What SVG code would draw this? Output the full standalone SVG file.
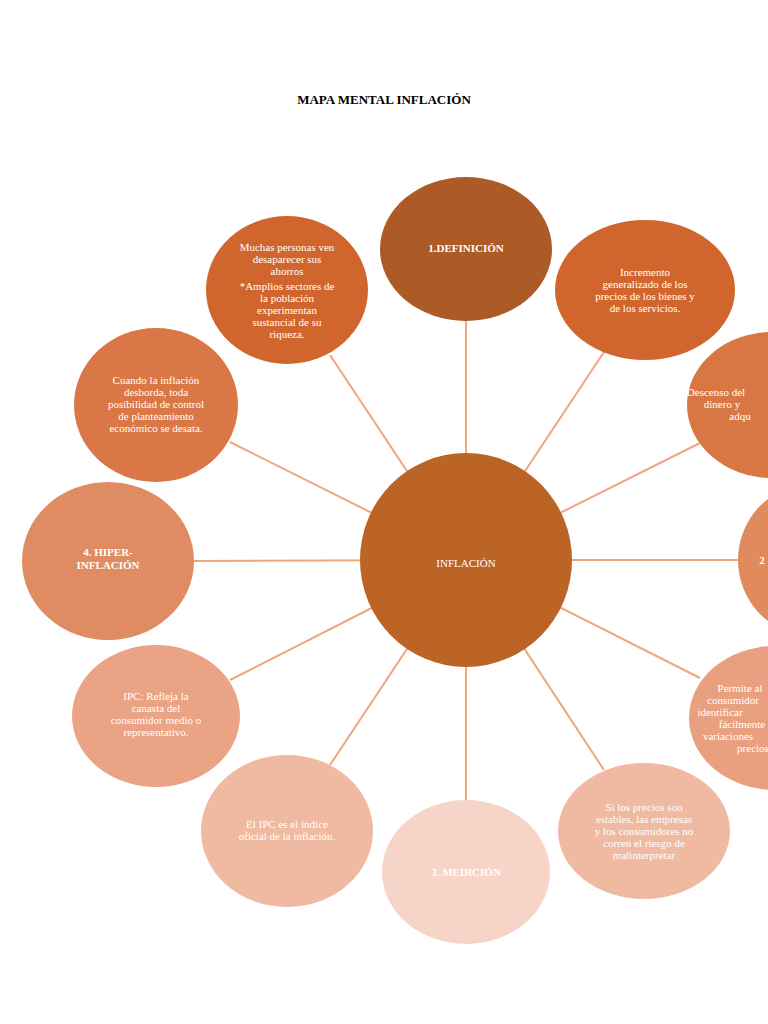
<svg xmlns="http://www.w3.org/2000/svg" width="768" height="1024" viewBox="0 0 768 1024">
<style>
.t{font-family:"Liberation Serif",serif;fill:#fff;font-size:11px;text-anchor:middle}
.b{font-weight:bold}
.c line{stroke:#f0a57e;stroke-width:2}
</style>
<rect width="768" height="1024" fill="#fff"/>
<text x="384" y="104" font-family="Liberation Serif,serif" font-size="13" font-weight="bold" text-anchor="middle">MAPA MENTAL INFLACIÓN</text>
<g class="c">
<line x1="466" y1="560" x2="466" y2="320"/>
<line x1="466" y1="560" x2="604" y2="352"/>
<line x1="466" y1="560" x2="700" y2="443"/>
<line x1="466" y1="560" x2="740" y2="560"/>
<line x1="466" y1="560" x2="700" y2="678"/>
<line x1="466" y1="560" x2="604" y2="770"/>
<line x1="466" y1="560" x2="466" y2="800"/>
<line x1="466" y1="560" x2="330" y2="765"/>
<line x1="466" y1="560" x2="230" y2="680"/>
<line x1="466" y1="560" x2="194" y2="561"/>
<line x1="466" y1="560" x2="230" y2="442"/>
<line x1="466" y1="560" x2="330" y2="355"/>
</g>
<g id="definicion"><ellipse cx="466" cy="249" rx="86" ry="72" fill="#ac5a26"/><text class="t b" x="466" y="252">1.DEFINICIÓN</text></g>
<g id="incremento"><ellipse cx="645" cy="290" rx="90" ry="70" fill="#d0662d"/><text class="t" x="645" y="276">Incremento</text><text class="t" x="645" y="288">generalizado de los</text><text class="t" x="645" y="300">precios de los bienes y</text><text class="t" x="645" y="312">de los servicios.</text></g>
<g id="descenso"><ellipse cx="772" cy="405" rx="85" ry="73" fill="#d97744"/><text class="t" x="716" y="396" text-anchor="start">Descenso del</text><text class="t" x="722" y="408" text-anchor="start">dinero y</text><text class="t" x="740" y="420" text-anchor="start">adqu</text></g>
<g id="n2"><ellipse cx="812" cy="560" rx="74" ry="76" fill="#e08a5d"/><text class="t b" x="762" y="564" text-anchor="start">2</text></g>
<g id="permite"><ellipse cx="775" cy="718" rx="86" ry="72" fill="#e9a080"/><text class="t" x="740" y="692" text-anchor="start">Permite al</text><text class="t" x="733" y="704" text-anchor="start">consumidor</text><text class="t" x="720" y="716" text-anchor="start">identificar</text><text class="t" x="742" y="728" text-anchor="start">fácilmente</text><text class="t" x="728" y="740" text-anchor="start">variaciones</text><text class="t" x="753" y="752" text-anchor="start">precios</text></g>
<g id="si"><ellipse cx="644" cy="831" rx="86" ry="68" fill="#f0b9a2"/><text class="t" x="644" y="811">Si los precios son</text><text class="t" x="644" y="823">estables, las empresas</text><text class="t" x="644" y="835">y los consumidores no</text><text class="t" x="644" y="847">corren el riesgo de</text><text class="t" x="644" y="859">malinterpretar</text></g>
<g id="medicion"><ellipse cx="466" cy="872" rx="84" ry="72" fill="#f6d5c8"/><text class="t b" x="466" y="876">3. MEDICIÓN</text></g>
<g id="elipc"><ellipse cx="287" cy="831" rx="86" ry="76" fill="#f0b9a2"/><text class="t" x="287" y="828">El IPC es el índice</text><text class="t" x="287" y="840">oficial de la inflación.</text></g>
<g id="ipc"><ellipse cx="156" cy="716" rx="84" ry="71" fill="#eaa385"/><text class="t" x="156" y="700">IPC:  Refleja la</text><text class="t" x="156" y="712">canasta del</text><text class="t" x="156" y="724">consumidor medio o</text><text class="t" x="156" y="736">representativo.</text></g>
<g id="hiper"><ellipse cx="108" cy="561" rx="86" ry="79" fill="#e08c62"/><text class="t b" x="108" y="556">4. HIPER-</text><text class="t b" x="108" y="569">INFLACIÓN</text></g>
<g id="cuando"><ellipse cx="156" cy="405" rx="82" ry="77" fill="#d97746"/><text class="t" x="156" y="384">Cuando la inflación</text><text class="t" x="156" y="396">desborda, toda</text><text class="t" x="156" y="408">posibilidad de control</text><text class="t" x="156" y="420">de planteamiento</text><text class="t" x="156" y="432">económico se desata.</text></g>
<g id="muchas"><ellipse cx="287" cy="290" rx="81" ry="74" fill="#d0662d"/><text class="t" x="287" y="251">Muchas personas ven</text><text class="t" x="287" y="263">desaparecer sus</text><text class="t" x="287" y="275">ahorros</text><text class="t" x="287" y="290">*Amplios sectores de</text><text class="t" x="287" y="302">la población</text><text class="t" x="287" y="314">experimentan</text><text class="t" x="287" y="326">sustancial de su</text><text class="t" x="287" y="338">riqueza.</text></g>
<g id="inflacion"><ellipse cx="466" cy="560" rx="106" ry="107" fill="#bc6326"/><text class="t" x="466" y="567" font-size="21">INFLACIÓN</text></g>
</svg>
